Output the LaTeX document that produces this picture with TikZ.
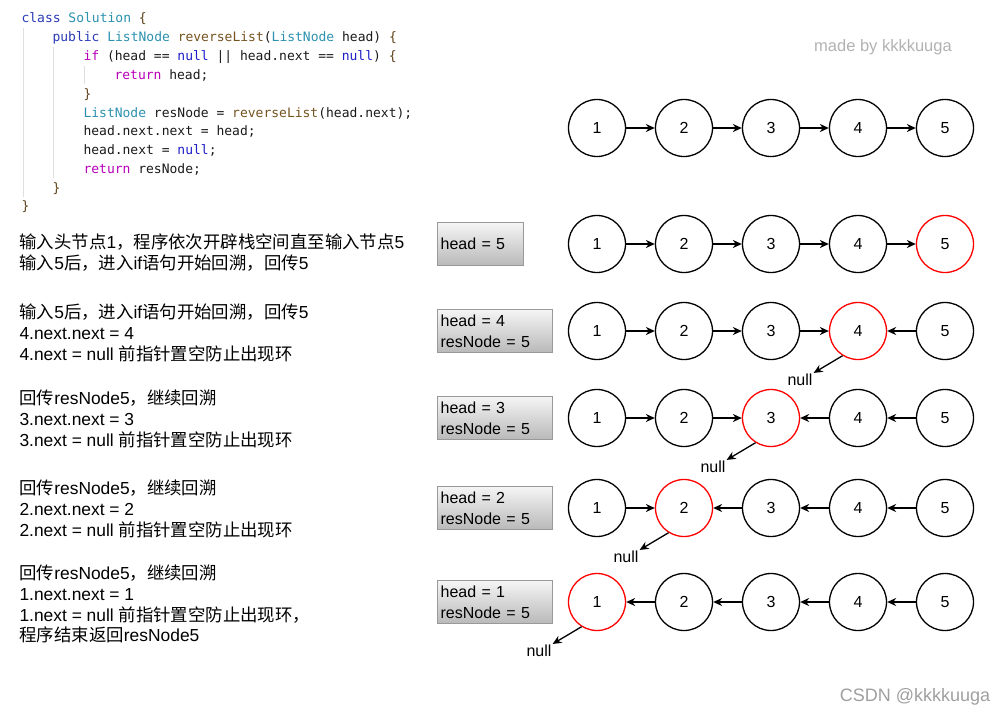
\documentclass[tikz,border=0pt]{standalone}
\usepackage{fontspec}
\setmainfont{Liberation Sans}
\newfontfamily\cjk{Noto Sans CJK SC}
\newfontfamily\codefont{DejaVu Sans Mono}
\usetikzlibrary{arrows.meta}
\definecolor{kwblue}{HTML}{2A3AB5}
\definecolor{nullblue}{HTML}{1E1EC8}
\definecolor{tyteal}{HTML}{2B91AF}
\definecolor{ctlpink}{HTML}{B800B8}
\definecolor{fnbrown}{HTML}{74531F}
\definecolor{codetext}{HTML}{1A1A1A}
\newcommand\zh[1]{{\cjk #1}}
\newcommand\ckw[1]{\textcolor{kwblue}{#1}}
\newcommand\cnull[1]{\textcolor{nullblue}{#1}}
\newcommand\cty[1]{\textcolor{tyteal}{#1}}
\newcommand\cctl[1]{\textcolor{ctlpink}{#1}}
\newcommand\cfn[1]{\textcolor{fnbrown}{#1}}
\newcommand\cbr[1]{\textcolor{fnbrown!80!black}{#1}}

\begin{document}
\begin{tikzpicture}[x=1pt,y=-1pt,
  every node/.style={font=\fontsize{16}{21}\selectfont},
  listnode/.style={circle,draw,line width=1.3pt,minimum size=57pt,inner sep=0pt},
  curnode/.style={listnode,draw=red},
  link/.style={-{Stealth[length=9pt,width=8pt]},line width=1.3pt},
  varbox/.style={draw=gray!80,line width=1.2pt,top color=gray!8,bottom color=gray!55,
    anchor=west,align=left,inner sep=3pt,minimum height=43pt},
  codeline/.style={anchor=base west,text=codetext,font=\codefont\fontsize{13}{16}\selectfont},
  noteline/.style={anchor=base west,font=\fontsize{17.4}{21}\selectfont},
  guide/.style={draw=gray!25,line width=1pt}]
\useasboundingbox (0,0) rectangle (1007,716);

% code
\draw[guide] (23,28) -- (23,197);
\draw[guide] (53,47) -- (53,178);
\draw[guide] (84,66) -- (84,84);
\foreach \y/\lvl/\txt [count=\k] in {
  18/0/{\ckw{class} \cty{Solution} \cbr{\{}},
  37/1/{\ckw{public} \cty{ListNode} \cfn{reverseList}(\cty{ListNode} head) \cbr{\{}},
  56/2/{\cctl{if} (head == \cnull{null} || head.next == \cnull{null}) \cbr{\{}},
  75/3/{\cctl{return} head;},
  94/2/{\cbr{\}}},
  113/2/{\cty{ListNode} resNode = \cfn{reverseList}(head.next);},
  131/2/{head.next.next = head;},
  150/2/{head.next = \cnull{null};},
  169/2/{\cctl{return} resNode;},
  188/1/{\cbr{\}}},
  206/0/{\cbr{\}}}}
  \node[codeline] (code\k) at ({18+31*\lvl},\y+4) {\txt};

% notes
\foreach \y/\txt [count=\k] in {
  242/{\zh{输入头节点}1\zh{，程序依次开辟栈空间直至输入节点}5},
  263/{\zh{输入}5\zh{后，进入}if\zh{语句开始回溯，回传}5},
  312/{\zh{输入}5\zh{后，进入}if\zh{语句开始回溯，回传}5},
  333/{4.next.next = 4},
  354/{4.next = null \zh{前指针置空防止出现环}},
  398/{\zh{回传}resNode5\zh{，继续回溯}},
  419/{3.next.next = 3},
  440/{3.next = null \zh{前指针置空防止出现环}},
  488/{\zh{回传}resNode5\zh{，继续回溯}},
  509/{2.next.next = 2},
  530/{2.next = null \zh{前指针置空防止出现环}},
  573/{\zh{回传}resNode5\zh{，继续回溯}},
  594/{1.next.next = 1},
  615/{1.next = null \zh{前指针置空防止出现环，}},
  635/{\zh{程序结束返回}resNode5}}
  \node[noteline] (note\k) at (16,\y+6) {\txt};

% lists
\foreach \row/\y/\cur in {1/128/6, 2/244/5, 3/331/4, 4/418/3, 5/508/2, 6/602/1}
{
  \foreach \i in {1,...,5} {
    \ifnum\i=\cur
      \node[curnode] (n\row\i) at ({597+87*(\i-1)},\y) {\i};
    \else
      \node[listnode] (n\row\i) at ({597+87*(\i-1)},\y) {\i};
    \fi
  }
  \foreach \i [evaluate=\i as \j using int(\i+1)] in {1,...,4} {
    \ifnum\i<\cur
      \draw[link] (n\row\i) -- (n\row\j);
    \else
      \draw[link] (n\row\j) -- (n\row\i);
    \fi
  }
  \ifnum\cur<5
    \node[inner sep=1pt] (null\row) at ({597+87*(\cur-1)-58},\y+49) {null};
    \draw[link] (n\row\cur.238) -- (null\row.north east);
  \fi
}

% boxes
\node[varbox,text width=80pt] (box2) at (437,244) {head = 5};
\foreach \row/\y/\h in {3/331/4, 4/418/3, 5/508/2, 6/602/1}
  \node[varbox,text width=109pt] (box\row) at (437,\y) {head = \h\\resNode = 5};

% marks
\node[text=gray!60,font=\fontsize{16.5}{19}\selectfont] (madeby) at (883,47) {made by kkkkuuga};
\node[text=gray!75,font=\fontsize{18}{21}\selectfont] (csdn) at (915,697) {CSDN @kkkkuuga};
\end{tikzpicture}
\end{document}
